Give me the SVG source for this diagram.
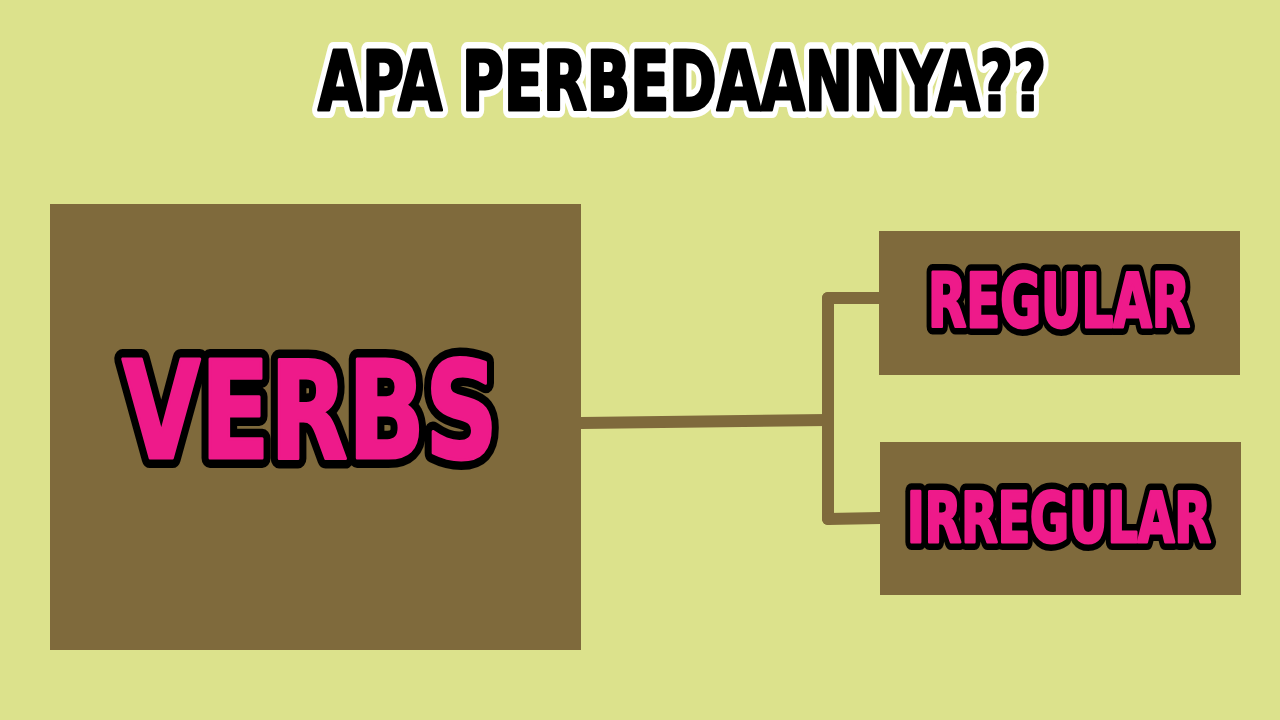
<svg xmlns="http://www.w3.org/2000/svg" width="1280" height="720" viewBox="0 0 1280 720">
<style>
.box{fill:#7f6a3c}
.f{font-family:"DejaVu Sans Condensed","DejaVu Sans","Liberation Sans",sans-serif;font-weight:bold;stroke-linejoin:round}
.lblo{fill:#000;stroke:#000}
.lbl{fill:#ee1a8a;stroke:#ee1a8a;stroke-width:3}
.titleo{fill:#fff;stroke:#fff;stroke-width:16}
.title{fill:#000;stroke:#000;stroke-width:3}
.con{fill:none;stroke:#7f6a3c;stroke-width:12;stroke-linecap:round;stroke-linejoin:round}
</style>
<rect width="1280" height="720" fill="#dce28c"/>
<g id="title">
<text class="f titleo" x="682" y="110" font-size="82" text-anchor="middle" textLength="728" lengthAdjust="spacingAndGlyphs">APA PERBEDAANNYA??</text>
<text class="f title" x="682" y="110" font-size="82" text-anchor="middle" textLength="728" lengthAdjust="spacingAndGlyphs">APA PERBEDAANNYA??</text>
</g>
<g id="connectors">
<path class="con" d="M581 423 L828 420"/>
<path class="con" d="M828 298 L828 519"/>
<path class="con" d="M828 298 L879 298"/>
<path class="con" d="M828 519 L880 518"/>
</g>
<g id="verbs">
<rect class="box" x="50" y="204" width="531" height="446"/>
<text class="f lblo" x="310" y="458" font-size="136" stroke-width="20" text-anchor="middle" textLength="376" lengthAdjust="spacingAndGlyphs">VERBS</text>
<text class="f lbl" x="310" y="458" font-size="136" text-anchor="middle" textLength="376" lengthAdjust="spacingAndGlyphs">VERBS</text>
</g>
<g id="regular">
<rect class="box" x="879" y="231" width="361" height="144"/>
<text class="f lblo" x="1059" y="327" font-size="74" stroke-width="16" text-anchor="middle" textLength="262" lengthAdjust="spacingAndGlyphs">REGULAR</text>
<text class="f lbl" x="1059" y="327" font-size="74" text-anchor="middle" textLength="262" lengthAdjust="spacingAndGlyphs">REGULAR</text>
</g>
<g id="irregular">
<rect class="box" x="880" y="442" width="361" height="153"/>
<text class="f lblo" x="1059" y="542" font-size="70" stroke-width="16" text-anchor="middle" textLength="304" lengthAdjust="spacingAndGlyphs">IRREGULAR</text>
<text class="f lbl" x="1059" y="542" font-size="70" text-anchor="middle" textLength="304" lengthAdjust="spacingAndGlyphs">IRREGULAR</text>
</g>
</svg>
